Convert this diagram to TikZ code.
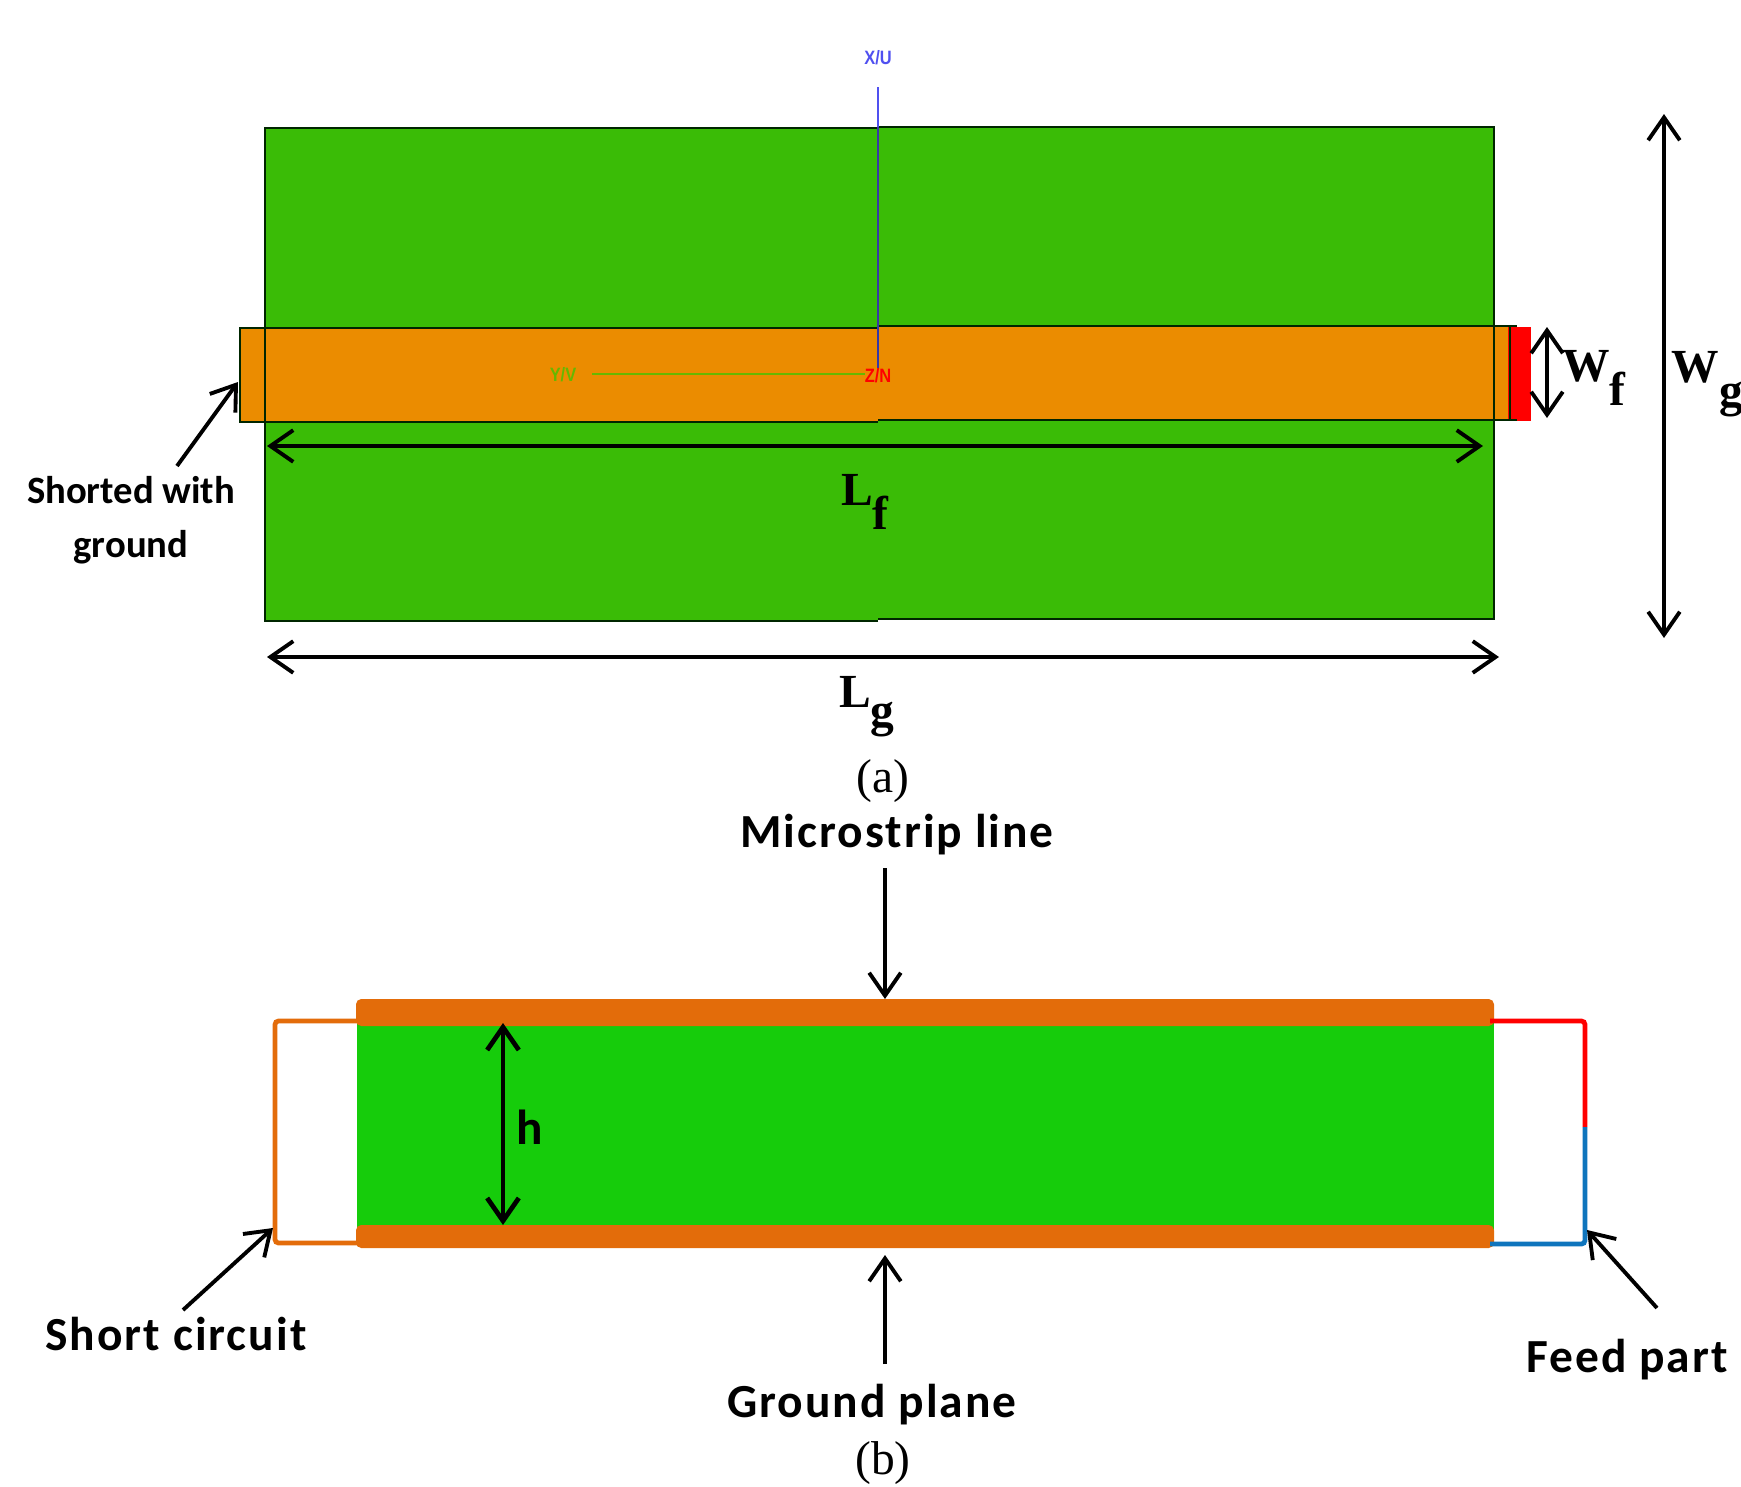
\documentclass[tikz,border=0pt]{standalone}
\usepackage{fontspec}
\setmainfont{Liberation Serif}
\newfontfamily\calibfont{Carlito}
\newfontfamily\calibwide[LetterSpace=4.3]{Carlito}
\newfontfamily\axisfont{Liberation Sans}
\usepackage{tikz}
\usetikzlibrary{arrows.meta}
\definecolor{patchgreen}{HTML}{3ABC06}
\definecolor{patchorange}{HTML}{EB8C00}
\definecolor{sidegreen}{HTML}{16CC0B}
\definecolor{sideorange}{HTML}{E36C0A}
\definecolor{feedblue}{HTML}{0F75BD}
\definecolor{axisblue}{HTML}{5050F0}
\definecolor{axisgreen}{HTML}{66B800}
\tikzstyle{fleche} = [->,>={Straight Barb[length=6.5pt,width=9pt]},line width=1.1pt]
\tikzstyle{dimfleche} = [<->,>={Straight Barb[length=6.5pt,width=9pt]},line width=1.1pt]
\tikzstyle{trait} = [-,rounded corners=1pt,line width=1.35pt]
\tikzstyle{contour} = [draw=black!85!green,line width=0.4pt]
\tikzstyle{etiq} = [font=\calibfont\bfseries,inner sep=0pt]
\tikzstyle{etiqlarge} = [font=\calibwide\bfseries\fontsize{13.5}{15}\selectfont,inner sep=0pt]
\tikzstyle{dimtxt} = [font=\fontsize{13.5}{15}\selectfont\bfseries,inner sep=0pt]
\tikzstyle{axe} = [font=\axisfont\bfseries\fontsize{5.5}{6}\selectfont,inner sep=0pt,xscale=0.85]
\newcommand{\dimlab}[2]{#1\raisebox{-0.5em}{#2}}

\begin{document}
\begin{tikzpicture}[x=0.01cm,y=-0.01cm]

	\useasboundingbox (0,0) rectangle (1741,1487);

	%% Top view

	\fill[patchgreen] (265,128) rectangle (878,621);
	\fill[patchgreen] (878,127) rectangle (1494,619);
	\draw[contour] (878,621) -- (265,621) -- (265,128) -- (878,128) -- (878,127) -- (1494,127) -- (1494,619) -- (878,619);

	\fill[patchorange] (240,328) rectangle (878,422);
	\fill[patchorange] (878,326) rectangle (1517,420);
	\fill[red] (1508,327) rectangle (1531,421);
	\draw[contour] (878,422) -- (240,422) -- (240,328) -- (878,328) -- (878,326) -- (1517,326);
	\draw[contour] (878,420) -- (1517,420);
	\draw[contour] (1510,326) -- (1510,420);
	\draw[contour] (265,328) -- (265,422);
	\draw[contour] (1494,326) -- (1494,420);

	\node[axe,text=axisblue] (XU) at (878,58) {X/U};
	\node[axe,text=axisgreen] (YV) at (563,375) {Y/V};
	\node[axe,text=red] (ZN) at (878,376) {Z/N};
	\coordinate (Ztop) at (878,87);
	\coordinate (Zbot) at (878,368);
	\coordinate (Yleft) at (592,374);
	\coordinate (Yright) at (865,374);
	\draw[axisblue,line width=0.7pt] (Ztop) -- (878,127);
	\draw[black!30!axisblue,line width=0.8pt] (878,127) -- (Zbot);
	\draw[axisgreen,line width=0.8pt] (Yleft) -- (Yright);

	%% Dimensions

	\coordinate (Lfa) at (267,446);
	\coordinate (Lfb) at (1483,446);
	\coordinate (Lga) at (267,657);
	\coordinate (Lgb) at (1499,657);
	\coordinate (Wfa) at (1547,327);
	\coordinate (Wfb) at (1547,418);
	\coordinate (Wga) at (1664,114);
	\coordinate (Wgb) at (1664,638);
	\draw[dimfleche] (Lfa) -- (Lfb);
	\draw[dimfleche] (Lga) -- (Lgb);
	\draw[dimfleche] (Wfa) -- (Wfb);
	\draw[dimfleche] (Wga) -- (Wgb);

	\node[dimtxt] (Lf) at (865,502) {\dimlab{L}{f}};
	\node[dimtxt] (Lg) at (867,707) {L\raisebox{-0.4em}{g}};
	\node[dimtxt] (Wf) at (1594,378) {\dimlab{W}{f}};
	\node[dimtxt,anchor=west] (Wg) at (1671,384) {\dimlab{W}{g}};

	\node[etiq,font=\calibfont\bfseries\fontsize{11}{13}\selectfont,align=center] (Shorted) at (131,520) {Shorted with\\[2.2pt]ground};
	\coordinate (Patchend) at (238,382);
	\coordinate (Shortedtail) at (177,466);
	\draw[fleche] (Shortedtail) -- (Patchend);

	\node[inner sep=0pt,font=\fontsize{13.5}{15}\selectfont] (capa) at (883,781) {(a)};

	%% Side view

	\fill[sidegreen] (357,1020) rectangle (1494,1230);
	\fill[sideorange,rounded corners=1.5pt] (356,999) rectangle (1494,1026);
	\fill[sideorange,rounded corners=1.5pt] (356,1225) rectangle (1494,1248);

	\coordinate (Sa) at (358,1021);
	\coordinate (Sb) at (358,1243);
	\coordinate (Fa) at (1490,1021);
	\coordinate (Fm) at (1585,1127);
	\coordinate (Fb) at (1490,1244);
	\draw[trait,draw=sideorange] (Sa) -- (275,1021) -- (275,1243) -- (Sb);
	\draw[trait,draw=red] (Fa) -- (1585,1021) -- (Fm);
	\draw[trait,draw=feedblue] (Fm) -- (1585,1244) -- (Fb);

	\coordinate (ha) at (503,1023);
	\coordinate (hb) at (503,1225);
	\draw[dimfleche,line width=1.35pt] (ha) -- (hb);
	\node[etiq,font=\calibfont\bfseries\fontsize{14}{15}\selectfont] (h) at (530,1127) {h};

	\node[etiqlarge] (Micro) at (897,835) {Microstrip line};
	\node[etiqlarge] (Ground) at (872,1405) {Ground plane};
	\node[etiqlarge] (Short) at (176,1334) {Short circuit};
	\node[etiqlarge] (Feed) at (1627,1360) {Feed part};

	\coordinate (Micropt) at (885,868);
	\coordinate (Microtip) at (885,999);
	\coordinate (Groundpt) at (885,1364);
	\coordinate (Groundtip) at (885,1255);
	\coordinate (Shorttip) at (273,1228);
	\coordinate (Shorttail) at (183,1310);
	\coordinate (Feedtip) at (1587,1230);
	\coordinate (Feedtail) at (1657,1308);
	\draw[fleche] (Micropt) -- (Microtip);
	\draw[fleche] (Groundpt) -- (Groundtip);
	\draw[fleche] (Shorttail) -- (Shorttip);
	\draw[fleche] (Feedtail) -- (Feedtip);

	\node[inner sep=0pt,font=\fontsize{13.5}{15}\selectfont] (capb) at (883,1463) {(b)};

\end{tikzpicture}
\end{document}
